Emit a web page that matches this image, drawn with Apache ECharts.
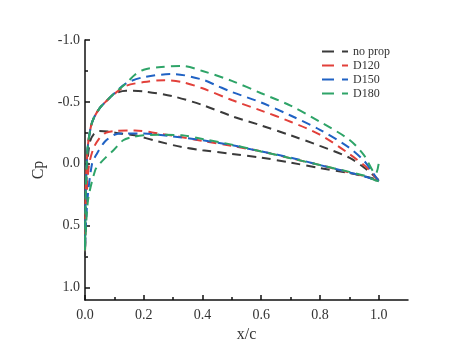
<!DOCTYPE html>
<html>
<head>
<meta charset="utf-8">
<script src="https://cdn.jsdelivr.net/npm/echarts@6/dist/echarts.min.js"></script>
<style>html,body{margin:0;padding:0;background:#fff}#c{width:474px;height:361px}</style>
</head>
<body>
<div id="c"></div>
<script>
// Series names
const seriesNames = ['no prop', 'D120', 'D150', 'D180'];

// no prop: upper surface TE->LE then lower surface LE->TE
const noPropX  = [1.0, 0.95, 0.9, 0.8, 0.7, 0.6, 0.5, 0.4, 0.3, 0.2, 0.14, 0.1, 0.07, 0.05, 0.03, 0.02, 0.01, 0.005, 0.002, 0.0,
                  0.003, 0.008, 0.017, 0.03, 0.047, 0.08, 0.12, 0.17, 0.25, 0.33, 0.4, 0.5, 0.6, 0.7, 0.8, 0.9, 0.95, 1.0];
const noPropCp = [0.13, 0.03, -0.05, -0.145, -0.23, -0.31, -0.385, -0.475, -0.545, -0.585, -0.59, -0.565, -0.5, -0.45, -0.37, -0.3, -0.15, 0.05, 0.3, 0.75,
                  0.3, 0.0, -0.18, -0.24, -0.265, -0.26, -0.245, -0.23, -0.18, -0.135, -0.11, -0.08, -0.05, -0.01, 0.035, 0.075, 0.1, 0.13];

// D120
const d120X  = [1.0, 0.964, 0.9, 0.8, 0.7, 0.6, 0.5, 0.4, 0.33, 0.27, 0.2, 0.14, 0.1, 0.07, 0.05, 0.03, 0.02, 0.01, 0.005, 0.002, 0.0,
                0.005, 0.013, 0.028, 0.047, 0.07, 0.1, 0.17, 0.25, 0.33, 0.4, 0.5, 0.6, 0.7, 0.8, 0.9, 0.95, 1.0];
const d120Cp = [0.14, 0.04, -0.08, -0.235, -0.34, -0.43, -0.515, -0.61, -0.66, -0.675, -0.66, -0.63, -0.565, -0.5, -0.45, -0.37, -0.3, -0.15, 0.05, 0.3, 0.72,
                0.3, 0.02, -0.12, -0.2, -0.25, -0.265, -0.27, -0.245, -0.215, -0.185, -0.145, -0.1, -0.045, 0.01, 0.07, 0.1, 0.14];

// D150
const d150X  = [1.0, 0.98, 0.95, 0.9, 0.8, 0.7, 0.6, 0.5, 0.45, 0.4, 0.3, 0.2, 0.14, 0.1, 0.07, 0.05, 0.03, 0.02, 0.01, 0.005, 0.002, 0.0,
                0.008, 0.024, 0.04, 0.068, 0.1, 0.13, 0.2, 0.3, 0.4, 0.5, 0.6, 0.7, 0.8, 0.9, 0.95, 1.0];
const d150Cp = [0.14, 0.07, -0.025, -0.13, -0.275, -0.39, -0.495, -0.58, -0.63, -0.68, -0.725, -0.70, -0.65, -0.57, -0.5, -0.45, -0.37, -0.3, -0.15, 0.05, 0.3, 0.68,
                0.3, 0.0, -0.08, -0.18, -0.235, -0.245, -0.245, -0.22, -0.19, -0.15, -0.1, -0.05, 0.01, 0.07, 0.1, 0.14];

// D180
const d180X  = [1.0, 0.99, 0.95, 0.9, 0.8, 0.7, 0.6, 0.5, 0.4, 0.33, 0.25, 0.2, 0.17, 0.14, 0.1, 0.07, 0.05, 0.03, 0.02, 0.01, 0.005, 0.002, 0.0,
                0.01, 0.035, 0.05, 0.07, 0.097, 0.13, 0.16, 0.2, 0.25, 0.33, 0.4, 0.5, 0.6, 0.7, 0.8, 0.9, 0.95, 0.99, 1.0];
const d180Cp = [0.0, 0.08, -0.07, -0.195, -0.34, -0.47, -0.57, -0.67, -0.75, -0.79, -0.78, -0.76, -0.72, -0.65, -0.57, -0.5, -0.45, -0.37, -0.3, -0.15, 0.05, 0.3, 0.7,
                0.3, 0.05, 0.0, -0.05, -0.11, -0.19, -0.215, -0.23, -0.235, -0.23, -0.2, -0.155, -0.1, -0.045, 0.01, 0.065, 0.095, 0.135, 0.14];

// Tick values
const xMajorTicks = [0, 0.2, 0.4, 0.6, 0.8, 1.0];
const xMinorTicks = [0.1, 0.3, 0.5, 0.7, 0.9];
const yMajorTicks = [-1.0, -0.5, 0, 0.5, 1.0];
const yMinorTicks = [-0.75, -0.25, 0.25, 0.75];

const colors = ['#3a3a3a', '#e2403a', '#2062c4', '#2ea468'];
const xs = [noPropX, d120X, d150X, d180X];
const ys = [noPropCp, d120Cp, d150Cp, d180Cp];

const FONT = '"Liberation Serif", "DejaVu Serif", serif';

const chart = echarts.init(document.getElementById('c'), null, {renderer: 'canvas'});

const axisLineStyle = {color: '#111', width: 1.5};
const dashIcon = 'path://M0,0h12v2h-12z M20,0h6v2h-6z';

chart.setOption({
  animation: false,
  backgroundColor: '#fff',
  grid: {left: 85, right: 66, top: 40, bottom: 61, containLabel: false},
  legend: {
    orient: 'vertical',
    left: 322,
    top: 45,
    padding: 0,
    itemWidth: 26,
    itemHeight: 2.5,
    itemGap: 1,
    textStyle: {fontFamily: FONT, fontSize: 12, lineHeight: 13, color: '#333'},
    data: seriesNames.map((n, i) => ({name: n, icon: dashIcon, itemStyle: {color: colors[i]}}))
  },
  xAxis: [{
    type: 'value', min: 0, max: 1.1, interval: 0.2, position: 'bottom',
    name: 'x/c', nameLocation: 'middle', nameGap: 27,
    nameTextStyle: {fontFamily: FONT, fontSize: 16, color: '#333'},
    axisLine: {show: true, onZero: false, lineStyle: axisLineStyle},
    axisTick: {show: true, inside: true, length: 5, lineStyle: {color: '#111', width: 1.5}, customValues: xMajorTicks},
    axisLabel: {fontFamily: FONT, fontSize: 14, color: '#333', margin: 8, customValues: xMajorTicks,
      formatter: v => v.toFixed(1)},
    splitLine: {show: false}
  }, {
    type: 'value', min: 0, max: 1.1, interval: 0.1, position: 'bottom', offset: 0,
    axisLine: {show: false, onZero: false},
    axisTick: {show: true, inside: true, length: 3, lineStyle: {color: '#111', width: 1.5}, customValues: xMinorTicks},
    axisLabel: {show: false},
    splitLine: {show: false}
  }],
  yAxis: [{
    type: 'value', min: -1.0, max: 1.1, interval: 0.5, inverse: true, position: 'left',
    name: 'Cp', nameLocation: 'middle', nameGap: 36, nameRotate: 90,
    nameTextStyle: {fontFamily: FONT, fontSize: 16, color: '#333'},
    axisLine: {show: true, onZero: false, lineStyle: axisLineStyle},
    axisTick: {show: true, inside: true, length: 5, lineStyle: {color: '#111', width: 1.5}, customValues: yMajorTicks},
    axisLabel: {fontFamily: FONT, fontSize: 14, color: '#333', margin: 5, customValues: yMajorTicks,
      formatter: v => v.toFixed(1)},
    splitLine: {show: false}
  }, {
    type: 'value', min: -1.0, max: 1.1, interval: 0.25, inverse: true, position: 'left', offset: 0,
    axisLine: {show: false, onZero: false},
    axisTick: {show: true, inside: true, length: 3, lineStyle: {color: '#111', width: 1.5}, customValues: yMinorTicks},
    axisLabel: {show: false},
    splitLine: {show: false}
  }],
  series: seriesNames.map((name, i) => ({
    name: name,
    type: 'line',
    xAxisIndex: 0,
    yAxisIndex: 0,
    symbol: 'none',
    smooth: 0.3,
    color: colors[i],
    lineStyle: {color: colors[i], width: 2, type: [9, 6]},
    data: xs[i].map((x, k) => [x, ys[i][k]])
  }))
});
</script>
</body>
</html>
